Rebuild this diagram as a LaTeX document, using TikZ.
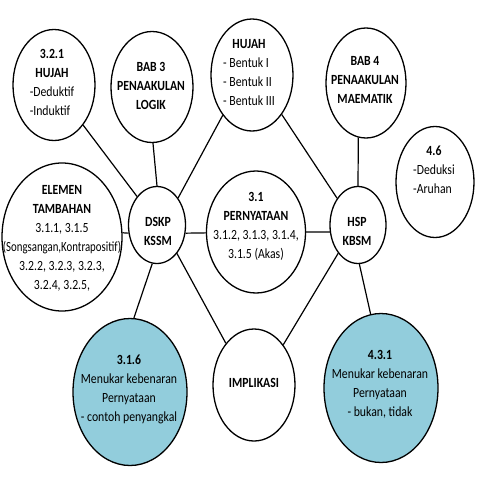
\documentclass[tikz,border=0pt]{standalone}
\usepackage{fontspec}
\setmainfont{Carlito}
\usetikzlibrary{shapes.geometric}
\definecolor{cblue}{HTML}{92CDDC}
\newcommand\sqz[1]{\scalebox{0.84}[1]{\begin{tabular}{@{}c@{}}#1\end{tabular}}}
\newcommand\lft[1]{\begin{tabular}[t]{@{}l@{}}#1\end{tabular}}
\begin{document}
\begin{tikzpicture}[x=1pt,y=-1pt,
  ell/.style={ellipse,draw,line width=1.3pt,inner sep=0pt,fill=white},
  bell/.style={ell,fill=cblue},
  txt/.style={inner sep=0pt,font=\fontsize{14}{19}\selectfont},
  conn/.style={line width=1.2pt}]
\useasboundingbox (0,0) rectangle (480,480);
% ellipses
\node[ell,minimum width=82pt,minimum height=111pt] (h1) at (54,85) {};
\node[ell,minimum width=82pt,minimum height=111pt] (b3) at (152,87) {};
\node[ell,minimum width=82pt,minimum height=112pt] (h2) at (252,75) {};
\node[ell,minimum width=80pt,minimum height=110pt] (b4) at (366,83) {};
\node[ell,minimum width=78pt,minimum height=111pt] (f46) at (435,182) {};
\node[ell,minimum width=120pt,minimum height=148pt] (el) at (62,237) {};
\node[ell,minimum width=57pt,minimum height=77pt] (ds) at (157,225) {};
\node[ell,minimum width=99pt,minimum height=122pt] (p31) at (256,232) {};
\node[ell,minimum width=56pt,minimum height=77pt] (hs) at (358,225) {};
\node[bell,minimum width=114pt,minimum height=147pt] (c316) at (130,392) {};
\node[ell,minimum width=82pt,minimum height=112pt] (im) at (254,385) {};
\node[bell,minimum width=114pt,minimum height=149pt] (c431) at (381,388) {};
% texts
\node[txt] (th1) at (52,83) {\sqz{\textbf{3.2.1}\\\textbf{HUJAH}\\\lft{-Deduktif\\-Induktif}}};
\node[txt] (tb3) at (151,87) {\sqz{\textbf{BAB 3}\\\textbf{PENAAKULAN}\\\textbf{LOGIK}}};
\node[txt] (th2) at (249,73) {\sqz{\textbf{HUJAH}\\\lft{- Bentuk I\\- Bentuk II\\- Bentuk III}}};
\node[txt] (tb4) at (365,81) {\sqz{\textbf{BAB 4}\\\textbf{PENAAKULAN}\\\textbf{MAEMATIK}}};
\node[txt] (tf46) at (434,171) {\sqz{\textbf{4.6}\\\lft{-Deduksi\\-Aruhan}}};
\node[txt] (tel) at (62,238.5) {\sqz{\textbf{ELEMEN}\\\textbf{TAMBAHAN}\\3.1.1, 3.1.5\\\scalebox{0.92}[1]{(Songsangan,Kontrapositif)}\\3.2.2, 3.2.3, 3.2.3,\\3.2.4, 3.2.5,}};
\node[txt] (tds) at (158,232) {\sqz{\textbf{DSKP}\\\textbf{KSSM}}};
\node[txt] (tp31) at (256,226) {\sqz{\textbf{3.1}\\\textbf{PERNYATAAN}\\3.1.2, 3.1.3, 3.1.4,\\3.1.5 (Akas)}};
\node[txt] (ths) at (357,232) {\sqz{\textbf{HSP}\\\textbf{KBSM}}};
\node[txt] (tc316) at (129,389) {\sqz{\textbf{3.1.6}\\Menukar kebenaran\\Pernyataan\\- contoh penyangkal}};
\node[txt] (tim) at (254,384) {\sqz{\textbf{IMPLIKASI}}};
\node[txt] (tc431) at (380,384) {\sqz{\textbf{4.3.1}\\Menukar kebenaran\\Pernyataan\\- bukan, tidak}};
% connectors
\draw[conn] (h1.306) -- (ds.125);
\draw[conn] (b3.271) -- (ds.90);
\draw[conn] (h2.234) -- (ds.52);
\draw[conn] (h2.307) -- (hs.128);
\draw[conn] (b4.262) -- (hs.90);
\draw[conn] (el.4) -- (ds.196);
\draw[conn] (ds.344) -- (p31.181);
\draw[conn] (p31.0) -- (hs.194);
\draw[conn] (ds.263) -- (c316.87);
\draw[conn] (ds.305) -- (im.124);
\draw[conn] (hs.235) -- (im.54);
\draw[conn] (hs.272) -- (c431.98);
\end{tikzpicture}
\end{document}
